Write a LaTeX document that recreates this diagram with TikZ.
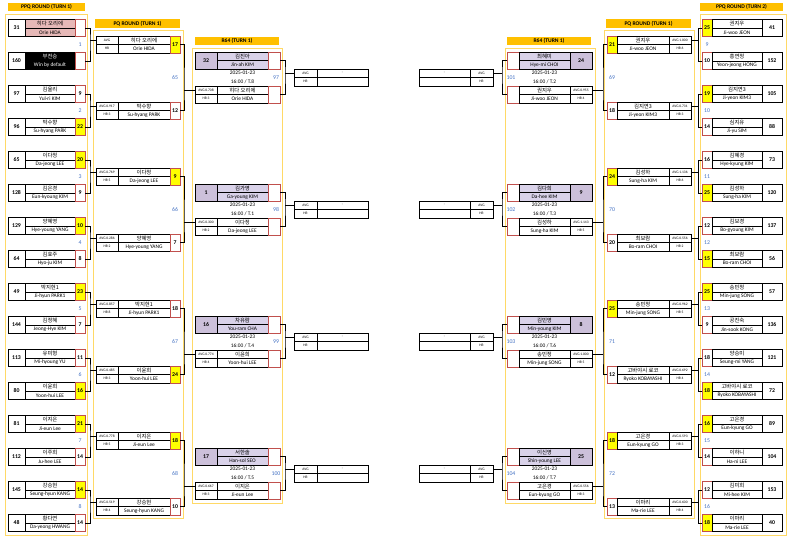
\documentclass[tikz,border=0pt]{standalone}
\usepackage{fontspec}
\setmainfont{Carlito}
\newfontfamily\kr{Noto Sans CJK KR}
\usetikzlibrary{calc}
\definecolor{yel}{HTML}{FFFF00}
\definecolor{scb}{HTML}{C0504D}
\definecolor{pnk}{HTML}{E6B8B7}
\definecolor{lav}{HTML}{D9D2E9}
\definecolor{lav2}{HTML}{CCC0DA}
\definecolor{hdr}{HTML}{FFC000}
\definecolor{pan}{HTML}{FFD966}
\definecolor{num}{HTML}{4472C4}
\tikzset{
 b/.style={draw, line width=0.6pt, inner sep=0pt, outer sep=0pt, font=\fontsize{5.4}{6}\selectfont},
 sm/.style={b, minimum width=22pt, minimum height=8.5pt, font=\fontsize{3.6}{4}\selectfont},
 sd/.style={b, minimum height=17pt, font=\bfseries\fontsize{5.8}{6.5}\selectfont},
 sc/.style={draw=scb, line width=0.6pt, inner sep=0pt, minimum height=17pt, font=\bfseries\fontsize{5.8}{6.5}\selectfont},
 win/.style={fill=yel},
 ln/.style={line width=0.7pt},
 panel/.style={draw=pan, line width=0.9pt},
 head/.style={fill=hdr, font=\bfseries\fontsize{5.6}{6.5}\selectfont, inner sep=0pt},
 mn/.style={text=num, font=\fontsize{5.8}{6.5}\selectfont},
 dt/.style={font=\fontsize{5.4}{6}\selectfont},
}
\newcommand\nmb[7]{%
 \node[b,minimum width=#4pt,minimum height=8.5pt,#7] (#1k) at (#2,{#3-4.25}) {\kr #5};
 \node[b,minimum width=#4pt,minimum height=8.5pt,#7] (#1e) at (#2,{#3+4.25}) {#6};}
\newcommand\avb[5]{%
 \node[sm] (#1a) at (#2,{#3-4.25}) {#4};
 \node[sm] (#1h) at (#2,{#3+4.25}) {#5};}
\newcommand\ppqL[8]{%
 \node[sd,minimum width=17pt] (#1s) at (16.5,#2) {#3};
 \nmb{#1}{50}{#2}{50}{#4}{#5}{#7}
 \node[sc,minimum width=10pt,#8] (#1) at (80,#2) {#6};}
\newcommand\ppqR[7]{%
 \node[sc,minimum width=10pt,#7] (#1) at (707,#2) {#3};
 \nmb{#1}{737}{#2}{50}{#4}{#5}{}
 \node[sd,minimum width=20pt] (#1s) at (772,#2) {#6};}
\newcommand\pqL[8]{%
 \avb{#1}{107}{#2}{#3}{#4}
 \nmb{#1}{144}{#2}{52}{#5}{#6}{}
 \node[sc,minimum width=10pt,#8] (#1) at (175,#2) {#7};}
\newcommand\pqR[8]{%
 \node[sc,minimum width=10pt,#8] (#1) at (612,#2) {#7};
 \nmb{#1}{643}{#2}{52}{#5}{#6}{}
 \avb{#1}{680}{#2}{#3}{#4}}
\newcommand\topL[5]{%
 \node[sd,minimum width=22pt,fill=lav2,line width=0.9pt] (#1s) at (206,#2) {#3};
 \nmb{#1}{242.5}{#2}{51}{#4}{#5}{fill=lav}
 \node[sc,minimum width=12pt] (#1) at (274,#2) {};}
\newcommand\botL[6]{%
 \avb{#1}{206}{#2}{#3}{#4}
 \nmb{#1}{242.5}{#2}{51}{#5}{#6}{}
 \node[sc,minimum width=12pt] (#1) at (274,#2) {};}
\newcommand\topR[5]{%
 \node[sc,minimum width=12pt] (#1) at (513,#2) {};
 \nmb{#1}{544.5}{#2}{51}{#4}{#5}{fill=lav}
 \node[sd,minimum width=22pt,fill=lav2,line width=0.9pt] (#1s) at (581,#2) {#3};}
\newcommand\botR[6]{%
 \node[sc,minimum width=12pt] (#1) at (513,#2) {};
 \nmb{#1}{544.5}{#2}{51}{#5}{#6}{}
 \avb{#1}{581}{#2}{#3}{#4}}
\newcommand\rtL[2]{%
 \node[sm,minimum width=23pt] (#1a) at (305.5,{#2-4.25}) {AVG};
 \node[sm,minimum width=23pt] (#1h) at (305.5,{#2+4.25}) {HR};
 \node[b,minimum width=51pt,minimum height=8.5pt,font=\fontsize{3.6}{4}\selectfont] (#1d) at (342.5,{#2-4.25}) {-};
 \node[b,minimum width=51pt,minimum height=8.5pt] (#1) at (342.5,{#2+4.25}) {};}
\newcommand\rtR[2]{%
 \node[b,minimum width=51pt,minimum height=8.5pt,font=\fontsize{3.6}{4}\selectfont] (#1d) at (444.5,{#2-4.25}) {-};
 \node[b,minimum width=51pt,minimum height=8.5pt] (#1) at (444.5,{#2+4.25}) {};
 \node[sm,minimum width=23pt] (#1a) at (481.5,{#2-4.25}) {AVG};
 \node[sm,minimum width=23pt] (#1h) at (481.5,{#2+4.25}) {HR};}
\newcommand\brL[4]{%
 \coordinate (t#3) at ($(#3.west)+(-#4,0)$);
 \draw[ln] (#1.east) -| (t#3) |- (#2.east);
 \draw[ln] (t#3) -- (#3.west);}
\newcommand\brR[4]{%
 \coordinate (t#3) at ($(#3.east)+(#4,0)$);
 \draw[ln] (#1.west) -| (t#3) |- (#2.west);
 \draw[ln] (t#3) -- (#3.east);}
\begin{document}
\begin{tikzpicture}[x=1pt,y=-1pt]
\useasboundingbox[fill=white] (0,0) rectangle (800,539);
\draw[panel] (5,14) rectangle (87,535);
\draw[panel] (93,30) rectangle (183,518);
\draw[panel] (192,48) rectangle (282,503);
\draw[panel] (505,48) rectangle (595,503);
\draw[panel] (604,30) rectangle (694,518);
\draw[panel] (700,14) rectangle (786,535);
\node[head,minimum width=77pt,minimum height=8pt] (h1) at (46.5,7) {PPQ ROUND (TURN 1)};
\node[head,minimum width=85pt,minimum height=9pt] (h2) at (137.5,23.5) {PQ ROUND (TURN 1)};
\node[head,minimum width=84pt,minimum height=8pt] (h3) at (237,40.5) {R64 (TURN 1)};
\node[head,minimum width=84pt,minimum height=8pt] (h4) at (549,40.5) {R64 (TURN 1)};
\node[head,minimum width=85pt,minimum height=9pt] (h5) at (648.5,23.5) {PQ ROUND (TURN 1)};
\node[head,minimum width=83pt,minimum height=8pt] (h6) at (741.5,7) {PPQ ROUND (TURN 2)};
% left PPQ
\ppqL{a0}{28}{31}{히다 오리에}{Orie HIDA}{}{fill=pnk}{}
\ppqL{a1}{61}{160}{부전승}{Win by default}{}{fill=black,text=white}{}
\ppqL{a2}{94}{97}{김율리}{Yul-ri KIM}{9}{}{}
\ppqL{a3}{127}{96}{박수향}{Su-hyang PARK}{22}{}{win}
\ppqL{a4}{160}{65}{이다정}{Da-jeong LEE}{20}{}{win}
\ppqL{a5}{193}{128}{김은경}{Eun-kyoung KIM}{9}{}{}
\ppqL{a6}{226}{129}{양혜영}{Hye-young YANG}{10}{}{win}
\ppqL{a7}{259}{64}{김효주}{Hyo-ju KIM}{8}{}{}
\ppqL{a8}{292}{49}{박지현1}{Ji-hyun PARK1}{23}{}{win}
\ppqL{a9}{325}{144}{김정혜}{Jeong-Hye KIM}{7}{}{}
\ppqL{a10}{358}{113}{유미형}{Mi-hyoung YU}{11}{}{}
\ppqL{a11}{391}{80}{이윤희}{Yoon-hui LEE}{16}{}{win}
\ppqL{a12}{424}{81}{이지은}{Ji-eun Lee}{21}{}{win}
\ppqL{a13}{457}{112}{이주희}{Ju-hee LEE}{14}{}{}
\ppqL{a14}{490}{145}{강승현}{Seung-hyun KANG}{14}{}{win}
\ppqL{a15}{523}{48}{황다연}{Da-yeong HWANG}{14}{}{}
% left PQ
\pqL{b0}{44.5}{AVG}{HR}{히다 오리에}{Orie HIDA}{17}{win}
\pqL{b1}{110.5}{AVG 0.917}{HR 3}{박수향}{Su-hyang PARK}{12}{}
\pqL{b2}{176.5}{AVG 0.769}{HR 5}{이다정}{Da-jeong LEE}{9}{win}
\pqL{b3}{242.5}{AVG 0.286}{HR 2}{양혜영}{Hye-young YANG}{7}{}
\pqL{b4}{308.5}{AVG 0.857}{HR 8}{박지현1}{Ji-hyun PARK1}{18}{}
\pqL{b5}{374.5}{AVG 0.485}{HR 3}{이윤희}{Yoon-hui LEE}{24}{win}
\pqL{b6}{440.5}{AVG 0.778}{HR 5}{이지은}{Ji-eun Lee}{18}{win}
\pqL{b7}{506.5}{AVG 0.519}{HR 4}{강승현}{Seung-hyun KANG}{10}{}
% left R64
\topL{c0}{60.5}{32}{김진아}{Jin-ah KIM}
\botL{c1}{94.5}{AVG 0.708}{HR 3}{히다 오리에}{Orie HIDA}
\topL{c2}{192.5}{1}{김가영}{Ga-young KIM}
\botL{c3}{226.5}{AVG 0.300}{HR 2}{이다정}{Da-jeong LEE}
\topL{c4}{324.5}{16}{차유람}{You-ram CHA}
\botL{c5}{358.5}{AVG 0.774}{HR 4}{이윤희}{Yoon-hui LEE}
\topL{c6}{456.5}{17}{서한솔}{Han-sol SEO}
\botL{c7}{490.5}{AVG 0.667}{HR 3}{이지은}{Ji-eun Lee}
\node[dt] (d0) at (242.5,72.5) {2025-01-23};  \node[dt] (e0) at (242.5,82) {16:00 / T.8};
\node[dt] (d1) at (242.5,204.5) {2025-01-23}; \node[dt] (e1) at (242.5,214) {16:00 / T.1};
\node[dt] (d2) at (242.5,336.5) {2025-01-23}; \node[dt] (e2) at (242.5,346) {16:00 / T.4};
\node[dt] (d3) at (242.5,468.5) {2025-01-23}; \node[dt] (e3) at (242.5,478) {16:00 / T.5};
\rtL{r0}{77.5} \rtL{r1}{209.5} \rtL{r2}{341.5} \rtL{r3}{473.5}
\rtR{s0}{77.5} \rtR{s1}{209.5} \rtR{s2}{341.5} \rtR{s3}{473.5}
% right R64
\topR{f0}{60.5}{24}{최혜미}{Hye-mi CHOI}
\botR{f1}{94.5}{AVG 0.955}{HR 4}{권지우}{Ji-woo JEON}
\topR{f2}{192.5}{9}{김다희}{Da-hee KIM}
\botR{f3}{226.5}{AVG 1.143}{HR 5}{김성하}{Sung-ha KIM}
\topR{f4}{324.5}{8}{김민영}{Min-young KIM}
\botR{f5}{358.5}{AVG 1.000}{HR 5}{송민정}{Min-jung SONG}
\topR{f6}{456.5}{25}{이신영}{Shin-young LEE}
\botR{f7}{490.5}{AVG 0.556}{HR 3}{고은경}{Eun-kyung GO}
\node[dt] (g0) at (544.5,72.5) {2025-01-23};  \node[dt] (k0) at (544.5,82) {16:00 / T.2};
\node[dt] (g1) at (544.5,204.5) {2025-01-23}; \node[dt] (k1) at (544.5,214) {16:00 / T.3};
\node[dt] (g2) at (544.5,336.5) {2025-01-23}; \node[dt] (k2) at (544.5,346) {16:00 / T.6};
\node[dt] (g3) at (544.5,468.5) {2025-01-23}; \node[dt] (k3) at (544.5,478) {16:00 / T.7};
% right PQ
\pqR{p0}{44.5}{AVG 1.000}{HR 6}{권지우}{Ji-woo JEON}{21}{win}
\pqR{p1}{110.5}{AVG 0.731}{HR 3}{김지연3}{Ji-yeon KIM3}{18}{}
\pqR{p2}{176.5}{AVG 1.136}{HR 6}{김성하}{Sung-ha KIM}{24}{win}
\pqR{p3}{242.5}{AVG 0.556}{HR 2}{최보람}{Bo-ram CHOI}{20}{}
\pqR{p4}{308.5}{AVG 0.962}{HR 5}{송민정}{Min-jung SONG}{25}{win}
\pqR{p5}{374.5}{AVG 0.692}{HR 4}{고바야시 료코}{Ryoko KOBAYASHI}{12}{}
\pqR{p6}{440.5}{AVG 0.593}{HR 3}{고은경}{Eun-kyung GO}{18}{win}
\pqR{p7}{506.5}{AVG 0.600}{HR 4}{이마리}{Ma-rie LEE}{13}{}
% right PPQ
\ppqR{q0}{28}{25}{권지우}{Ji-woo JEON}{41}{win}
\ppqR{q1}{61}{10}{홍연정}{Yeon-jeong HONG}{152}{}
\ppqR{q2}{94}{19}{김지연3}{Ji-yeon KIM3}{105}{win}
\ppqR{q3}{127}{14}{심지유}{Ji-yu SIM}{88}{}
\ppqR{q4}{160}{16}{김혜경}{Hye-kyung KIM}{73}{}
\ppqR{q5}{193}{25}{김성하}{Sung-ha KIM}{120}{win}
\ppqR{q6}{226}{12}{김보경}{Bo-gyoung KIM}{137}{}
\ppqR{q7}{259}{15}{최보람}{Bo-ram CHOI}{56}{win}
\ppqR{q8}{292}{25}{송민정}{Min-jung SONG}{57}{win}
\ppqR{q9}{325}{9}{공진숙}{Jin-sook KONG}{136}{}
\ppqR{q10}{358}{18}{양승미}{Seung-mi YANG}{121}{}
\ppqR{q11}{391}{18}{고바야시 료코}{Ryoko KOBAYASHI}{72}{win}
\ppqR{q12}{424}{16}{고은경}{Eun-kyung GO}{89}{win}
\ppqR{q13}{457}{14}{이하니}{Ha-ni LEE}{104}{}
\ppqR{q14}{490}{12}{김미희}{Mi-hee KIM}{153}{}
\ppqR{q15}{523}{18}{이마리}{Ma-rie LEE}{40}{win}
% connectors left
\brL{a0}{a1}{b0a}{6} \brL{a2}{a3}{b1a}{6} \brL{a4}{a5}{b2a}{6} \brL{a6}{a7}{b3a}{6}
\brL{a8}{a9}{b4a}{6} \brL{a10}{a11}{b5a}{6} \brL{a12}{a13}{b6a}{6} \brL{a14}{a15}{b7a}{6}
\brL{b0}{b1}{c1a}{11} \brL{b2}{b3}{c3a}{11} \brL{b4}{b5}{c5a}{11} \brL{b6}{b7}{c7a}{11}
\brL{c0}{c1}{r0a}{9} \brL{c2}{c3}{r1a}{9} \brL{c4}{c5}{r2a}{9} \brL{c6}{c7}{r3a}{9}
% connectors right
\brR{q0}{q1}{p0a}{7} \brR{q2}{q3}{p1a}{7} \brR{q4}{q5}{p2a}{7} \brR{q6}{q7}{p3a}{7}
\brR{q8}{q9}{p4a}{7} \brR{q10}{q11}{p5a}{7} \brR{q12}{q13}{p6a}{7} \brR{q14}{q15}{p7a}{7}
\brR{p0}{p1}{f1a}{11} \brR{p2}{p3}{f3a}{11} \brR{p4}{p5}{f5a}{11} \brR{p6}{p7}{f7a}{11}
\brR{f0}{f1}{s0a}{9} \brR{f2}{f3}{s1a}{9} \brR{f4}{f5}{s2a}{9} \brR{f6}{f7}{s3a}{9}
% match numbers
\foreach \n [count=\i from 0] in {1,...,8} \node[mn] (m\n) at (80,{44.5+66*\i}) {\n};
\foreach \n [count=\i from 0] in {9,...,16} \node[mn] (m\n) at (707,{44.5+66*\i}) {\n};
\foreach \n [count=\i from 0] in {65,...,68} \node[mn] (m\n) at (175,{77.5+132*\i}) {\n};
\foreach \n [count=\i from 0] in {69,...,72} \node[mn] (m\n) at (612,{77.5+132*\i}) {\n};
\foreach \n [count=\i from 0] in {97,...,100} \node[mn] (m\n) at (276,{77.5+132*\i}) {\n};
\foreach \n [count=\i from 0] in {101,...,104} \node[mn] (m\n) at (511,{77.5+132*\i}) {\n};
\end{tikzpicture}
\end{document}
